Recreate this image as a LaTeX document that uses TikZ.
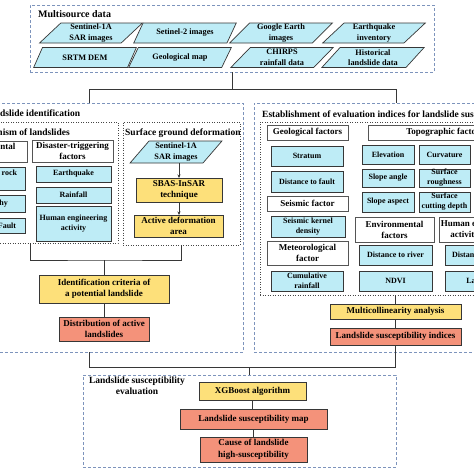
\documentclass[tikz,border=0pt]{standalone}
\usepackage{fontspec}
\setmainfont{Liberation Serif}
\usetikzlibrary{shapes.geometric,arrows.meta}
\definecolor{cblue}{RGB}{190,236,246}
\definecolor{cyel}{RGB}{253,224,122}
\definecolor{csal}{RGB}{244,146,122}
\definecolor{cdash}{RGB}{125,148,188}
\definecolor{cline}{RGB}{55,55,55}
\definecolor{cdot}{RGB}{70,70,70}
\newcommand{\bx}[7]{\node[#2,minimum width={(#5)-(#3)},minimum height={(#6)-(#4)}] (#1) at ({((#3)+(#5))/2},{((#4)+(#6))/2}) {#7};}
\tikzset{
 bbase/.style={inner sep=0pt,outer sep=0pt,align=center,line width=0.8pt},
 bluebox/.style={bbase,fill=cblue,draw=cline,font=\bfseries\fontsize{8}{10}\selectfont},
 whitebox/.style={bbase,fill=white,draw=cline!85,font=\bfseries\fontsize{9}{11}\selectfont},
 yelbox/.style={bbase,fill=cyel,draw=cline,font=\bfseries\fontsize{9}{11.5}\selectfont},
 salbox/.style={bbase,fill=csal,draw=cline,font=\bfseries\fontsize{9}{11.5}\selectfont},
 parabox/.style={trapezium,trapezium left angle=50,trapezium right angle=130,trapezium stretches=true,
   inner sep=0pt,outer sep=0pt,align=center,fill=cblue,draw=cline,line width=0.7pt,
   font=\bfseries\fontsize{8.3}{10.5}\selectfont,minimum width=103pt,minimum height=20pt},
 dashbox/.style={draw=cdash,line width=0.9pt,dash pattern=on 3pt off 2pt,inner sep=0pt,outer sep=0pt},
 dotbox/.style={draw=cdot,line width=0.9pt,dash pattern=on 1pt off 1.5pt,inner sep=0pt,outer sep=0pt},
 title/.style={font=\bfseries\fontsize{9.5}{11}\selectfont,inner sep=0pt,anchor=base west},
 conn/.style={draw=cline,line width=0.9pt},
 arr/.style={conn,-{Stealth[length=3.5pt,width=3pt]}}
}
\begin{document}
\begin{tikzpicture}[x=1pt,y=-1pt]
\useasboundingbox (0,0) rectangle (474,474);
\clip (0,0) rectangle (474,474);
\fill[white] (0,0) rectangle (474,474);
% ---------- containers ----------
\bx{ms}{dashbox}{30}{5}{434}{72}{}
\bx{lid}{dashbox}{-260}{103}{243}{352}{}
\bx{fm}{dotbox}{-130}{122}{118}{243}{}
\bx{sgd}{dotbox}{123}{122}{240}{245}{}
\bx{ev}{dashbox}{254}{103}{560}{352}{}
\bx{evin}{dotbox}{260}{122}{550}{295}{}
\bx{lse}{dashbox}{83}{375}{396}{467}{}
% ---------- titles ----------
\node[title,font=\bfseries\fontsize{10}{12}\selectfont] (tms) at (38,17) {Multisource data};
\node[title] (tlid) at (-16.5,116) {Landslide identification};
\node[title,anchor=base east] (tfm) at (70,135) {Mechanism of landslides};
\node[title] (tsgd) at (125,135) {Surface ground deformation};
\node[title] (tev) at (262,117) {Establishment of evaluation indices for landslide susceptibility};
\node[font=\bfseries\fontsize{9.5}{11}\selectfont,align=center,inner sep=0pt,anchor=north] (tlse) at (137,377) {Landslide susceptibility\\evaluation};
% ---------- multisource data ----------
\node[parabox] (p1) at (91,33) {Sentinel-1A\\SAR images};
\node[parabox] (p2) at (185,33) {Setinel-2 images};
\node[parabox] (p3) at (281,33) {Google Earth\\images};
\node[parabox] (p4) at (374,33) {Earthquake\\inventory};
\node[parabox] (p5) at (85,57.5) {SRTM DEM};
\node[parabox] (p6) at (180,57.5) {Geological map};
\node[parabox] (p7) at (282,57.5) {CHIRPS\\rainfall data};
\node[parabox] (p8) at (373,57.5) {Historical\\landslide data};
% ---------- mechanism ----------
\bx{envl}{whitebox}{-54}{141}{27}{162}{Environmental\\factors}
\bx{dtf}{whitebox}{32}{140}{113}{162}{Disaster-triggering\\factors}
\bx{rock}{bluebox}{-50}{167}{25}{190}{Engineering rock\\group}
\bx{topo}{bluebox}{-51}{195}{25}{212}{Topography}
\bx{fault}{bluebox}{-11}{218}{25}{233}{Fault}
\bx{eq}{bluebox}{36}{166}{111}{182}{Earthquake}
\bx{rain}{bluebox}{36}{187}{111}{203}{Rainfall}
\bx{hea}{bluebox}{36}{206}{111}{241}{Human engineering\\activity}
% ---------- surface deformation ----------
\node[parabox,minimum width=92pt,minimum height=22pt] (s1) at (176,152) {Sentinel-1A\\SAR images};
\bx{sbas}{yelbox}{136}{178}{222}{202}{SBAS-InSAR\\technique}
\bx{ada}{yelbox}{134}{215}{223}{237}{Active deformation\\area}
\draw[arr] (sbas.north |- s1.south) -- (sbas.north);
\draw[arr] (sbas.south) -- (sbas.south |- ada.north);
% ---------- identification ----------
\bx{idc}{yelbox}{39}{275}{169}{303}{Identification criteria of\\a potential landslide}
\bx{dist}{salbox}{59}{317}{149}{341}{Distribution of active\\landslides}
\coordinate (fmb) at (30,243);
\coordinate (j2) at (104,260);
\draw[conn] (fmb) |- (j2) -| (sgd.south);
\draw[conn] (j2) -- (idc.north);
\draw[conn] (idc.south) -- (dist.north);
% ---------- evaluation indices ----------
\bx{geof}{whitebox}{267}{125}{348}{140}{Geological factors}
\bx{topf}{whitebox}{368}{125}{522}{140}{Topographic factors}
\bx{strat}{bluebox}{271}{146}{343}{166}{Stratum}
\bx{dfault}{bluebox}{271}{171}{343}{192}{Distance to fault}
\bx{seis}{whitebox}{267}{196}{348}{211}{Seismic factor}
\bx{skd}{bluebox}{271}{216}{345}{237}{Seismic kernel\\density}
\bx{meteo}{whitebox}{267}{241}{348}{265}{Meteorological\\factor}
\bx{cumr}{bluebox}{271}{271}{343}{291}{Cumulative\\rainfall}
\bx{elev}{bluebox}{362}{145}{414}{164}{Elevation}
\bx{curv}{bluebox}{419}{145}{470}{164}{Curvature}
\bx{slang}{bluebox}{362}{169}{414}{187}{Slope angle}
\bx{srough}{bluebox}{419}{169}{470}{187}{Surface\\roughness}
\bx{sasp}{bluebox}{362}{192}{414}{212}{Slope aspect}
\bx{scut}{bluebox}{419}{192}{470}{212}{Surface\\cutting depth}
\bx{envf}{whitebox}{355}{217}{434}{242}{Environmental\\factors}
\bx{humf}{whitebox}{439}{217}{519}{242}{Human engineering\\activity factors}
\bx{driv}{bluebox}{359}{245}{432}{265}{Distance to river}
\bx{droad}{bluebox}{445}{245}{515}{265}{Distance to road}
\bx{ndvi}{bluebox}{359}{271}{432}{291}{NDVI}
\bx{luse}{bluebox}{445}{271}{519}{291}{Land use}
\bx{multi}{yelbox}{330}{304}{461}{319}{Multicollinearity analysis}
\bx{lsi}{salbox}{330}{328}{461}{345}{Landslide susceptibility indices}
\draw[conn] (multi.north |- evin.south) -- (multi.north);
\draw[conn] (multi.south) -- (lsi.north);
% ---------- top connectors ----------
\coordinate (j1) at (232,89);
\coordinate (lidtop) at (89,103);
\coordinate (evtop) at (396,103);
\draw[conn] (ms.south) -- (j1);
\draw[conn] (lidtop) -- (lidtop |- j1) -- (evtop |- j1) -- (evtop);
% ---------- bottom connectors ----------
\coordinate (j3) at (249,367);
\coordinate (lidb) at (89,352);
\draw[conn] (lsi.south) |- (j3);
\draw[conn] (lidb) |- (j3);
\draw[conn] (j3) -- (j3 |- lse.north);
% ---------- susceptibility evaluation ----------
\bx{xgb}{yelbox}{199}{382}{306}{400}{XGBoost algorithm}
\bx{lsm}{salbox}{180}{409}{327}{429}{Landslide susceptibility map}
\bx{cause}{salbox}{200}{437}{307}{462}{Cause of landslide\\high-susceptibility}
\draw[conn] (xgb.south) -- (xgb.south |- lsm.north);
\draw[conn] (lsm.south) -- (lsm.south |- cause.north);
\end{tikzpicture}
\end{document}
